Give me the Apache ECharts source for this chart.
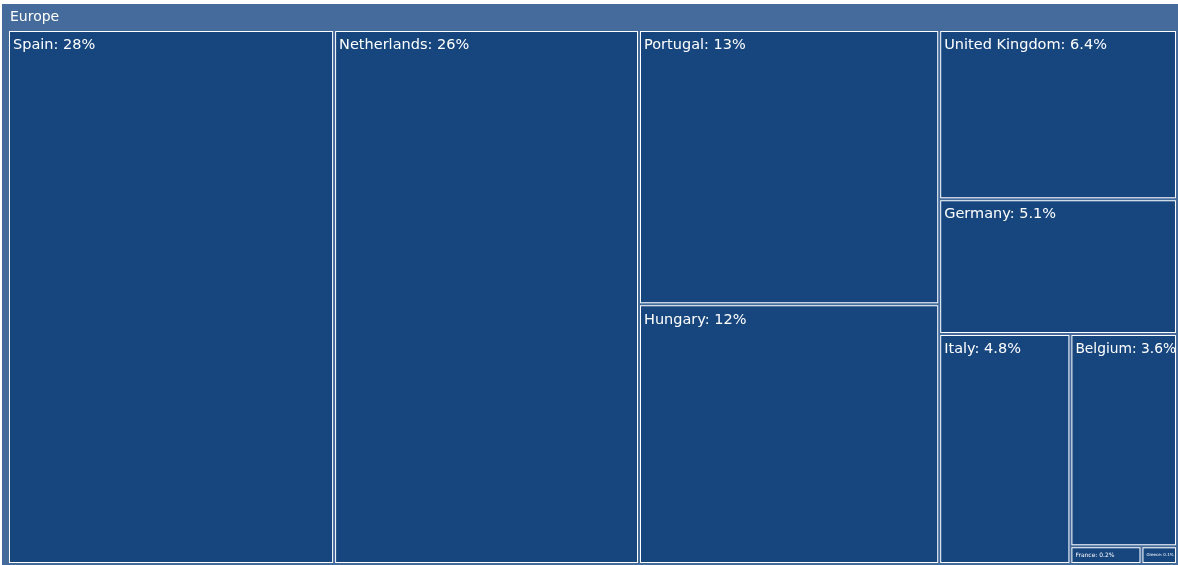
<!DOCTYPE html>
<html>
<head>
<meta charset="utf-8">
<script src="https://cdn.jsdelivr.net/npm/echarts@6/dist/echarts.min.js"></script>
<style>
html,body{margin:0;padding:0;background:#fff;}
#chart{width:1178px;height:565px;}
</style>
</head>
<body>
<div id="chart"></div>
<script>
const rootName = 'Europe';
const countries = ['Spain', 'Netherlands', 'Portugal', 'Hungary', 'United Kingdom', 'Germany', 'Italy', 'Belgium', 'France', 'Greece'];
const shares = [27.7, 25.9, 13.1, 12.4, 6.4, 5.1, 4.8, 3.6, 0.2, 0.1];

// label styles for cells where the text has to shrink to fit
const fittedLabel = {
  Belgium: { fontSize: 13.8 },
  France: { fontSize: 6, distance: 3, padding: 0, position: 'insideLeft' },
  Greece: { fontSize: 4, distance: 3, padding: 0, position: 'insideLeft' }
};

function fmt(v) { return String(Number(v.toPrecision(2))); }

const children = countries.map((c, i) => {
  const item = { name: c, value: shares[i] };
  if (fittedLabel[c]) item.label = fittedLabel[c];
  return item;
});

const headerColor = '#446b9c';

const chart = echarts.init(document.getElementById('chart'));
chart.setOption({
  animation: false,
  graphic: [{
    type: 'rect', z: -1, silent: true,
    shape: { x: 2, y: 4, width: 6, height: 561 },
    style: { fill: headerColor }
  }],
  series: [{
    type: 'treemap',
    left: 5, top: 4, width: 1175, height: 563,
    roam: false,
    nodeClick: false,
    squareRatio: 1,
    breadcrumb: { show: false },
    sort: 'desc',
    label: {
      show: true,
      position: 'insideTopLeft',
      distance: 3,
      padding: [3, 0, 0, 0],
      overflow: 'none',
      color: '#ffffff',
      fontFamily: 'DejaVu Sans',
      fontSize: 14.5,
      formatter: p => p.name + ': ' + fmt(p.value) + '%'
    },
    upperLabel: {
      show: true,
      height: 27,
      padding: 0,
      color: '#ffffff',
      fontFamily: 'DejaVu Sans',
      fontSize: 14,
      position: 'insideLeft',
      distance: 1,
      formatter: p => p.name
    },
    emphasis: { disabled: true },
    levels: [
      { itemStyle: { borderWidth: 0, gapWidth: 0 }, upperLabel: { show: false } },
      { itemStyle: { color: headerColor, borderColor: headerColor, borderWidth: 4, gapWidth: 2 } },
      { itemStyle: { color: '#17467f', borderColor: '#ffffff', borderWidth: 1, gapWidth: 0 } }
    ],
    data: [{ name: rootName, children: children }]
  }]
});
</script>
</body>
</html>
